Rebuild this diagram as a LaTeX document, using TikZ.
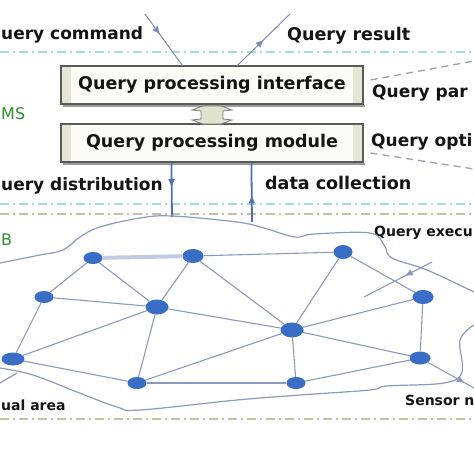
\documentclass[tikz,border=0pt]{standalone}
\usepackage{fontspec}
\setmainfont{DejaVu Sans}
\usetikzlibrary{shapes.geometric,arrows.meta,decorations.markings,calc}

\definecolor{netline}{HTML}{8A99C0}
\definecolor{thickline}{HTML}{C2CAE0}
\definecolor{nodeblue}{HTML}{3A6EC6}
\definecolor{arrowblue}{HTML}{4A70BC}
\definecolor{feedline}{HTML}{7C8DBA}
\definecolor{cyanline}{HTML}{A6DCE0}
\definecolor{tanline}{HTML}{C9C0A2}
\definecolor{txt}{HTML}{141414}
\definecolor{sinkgreen}{HTML}{2F8F2F}
\definecolor{boxfill}{HTML}{FBFBF7}
\definecolor{boxstrip}{HTML}{E4E5D3}
\definecolor{boxedge}{HTML}{5A5A5A}
\definecolor{dashgrey}{HTML}{9AA0AE}
\definecolor{dblfill}{HTML}{DFE2CE}

\begin{document}
\begin{tikzpicture}[x=1pt,y=-1pt,
  lbl/.style={font=\fontsize{17.5}{20}\selectfont\bfseries, text=txt, inner sep=0},
  edgelbl/.style={font=\fontsize{17}{20}\selectfont\bfseries, text=txt, inner sep=0},
  slbl/.style={font=\fontsize{14}{16}\selectfont\bfseries, text=txt, inner sep=0},
  glbl/.style={font=\fontsize{16}{18}\selectfont, text=sinkgreen, inner sep=0},
  qbox/.style={draw=boxedge, line width=1.2pt, fill=boxfill, minimum width=302pt, minimum height=38pt, inner sep=0, font=\fontsize{17.5}{20}\selectfont\bfseries, text=txt},
  sn/.style={ellipse, fill=nodeblue, inner sep=0, minimum width=19pt, minimum height=12pt},
  bigsn/.style={sn, minimum width=23pt, minimum height=15pt},
  edge/.style={draw=netline, line width=1.1pt},
  cyandd/.style={draw=cyanline, line width=1.2pt, dash pattern=on 9pt off 4pt on 2pt off 4pt},
  tandd/.style={draw=tanline, line width=1.2pt, dash pattern=on 9pt off 4pt on 2pt off 4pt},
  midarrow/.style={postaction={decorate}, decoration={markings, mark=at position #1 with {\arrow{Latex[length=8pt,width=7pt]}}}},
]
\useasboundingbox (0,0) rectangle (474,474);
\fill[white] (0,0) rectangle (474,474);

% separator lines
\draw[cyandd] (0,52) -- (474,52);
\draw[cyandd] (0,204) -- (474,204);
\draw[tandd] (0,214) -- (474,214);
\draw[tandd] (0,419) -- (474,419);

% boxes
\fill[boxedge!60] (63,105) rectangle (365,106.5);
\node[qbox] (b1) at (212,85) {};
\fill[boxstrip] ($(b1.north west)+(2,2)$) rectangle ($(b1.south west)+(11,-2)$);
\fill[boxstrip] ($(b1.north east)+(-11,2)$) rectangle ($(b1.south east)+(-2,-2)$);
\node[lbl] at (b1.center) {Query processing interface};

\fill[boxedge!60] (63,163) rectangle (365,164.5);
\node[qbox] (b2) at (212,143) {};
\fill[boxstrip] ($(b2.north west)+(2,2)$) rectangle ($(b2.south west)+(11,-2)$);
\fill[boxstrip] ($(b2.north east)+(-11,2)$) rectangle ($(b2.south east)+(-2,-2)$);
\node[lbl] at (b2.center) {Query processing module};

% double arrow between boxes
\draw[boxedge!80, fill=dblfill, line width=0.8pt]
  (203,106) -- (221,106) -- (232,110) -- (223,111) -- (223,119) -- (232,120)
  -- (221,124) -- (203,124) -- (192,120) -- (201,119) -- (201,111) -- (192,110) -- cycle;

% texts
\node[edgelbl, anchor=base west] (tqc) at (1,39) {uery command};
\node[lbl, anchor=base west] (tqr) at (287,40) {Query result};
\node[edgelbl, anchor=base west] (tqp) at (372,97) {Query par};
\node[edgelbl, anchor=base west] (tqo) at (371,146) {Query opti};
\node[edgelbl, anchor=base west] (tqd) at (1,190) {uery distribution};
\node[lbl, anchor=base west] (tdc) at (265,189) {data collection};
\node[slbl, anchor=base west] (tqe) at (374,236) {Query execu};
\node[slbl, anchor=base west] (tsn) at (405,405) {Sensor n};
\node[slbl, anchor=base west] (tva) at (1,410) {ual area};
\node[glbl, anchor=base west] (tms) at (1,119) {MS};
\node[glbl, anchor=base west] (tdb) at (1,245) {B};

% query command / result
\coordinate (qcs) at (145,14);
\coordinate (qrs) at (290,14);
\draw[feedline, line width=1pt, midarrow=0.4] (qcs) -- ($(b1.north west)+(122,0)$);
\draw[feedline, line width=1pt, midarrow=0.5] ($(b1.north west)+(177,0)$) -- (qrs);

% dashed grey lines
\coordinate (dp) at (474,61);
\coordinate (dq) at (474,169);
\draw[dashgrey, line width=1.3pt, dash pattern=on 7pt off 5pt] ($(b1.east)+(7,-5)$) -- (dp);
\draw[dashgrey, line width=1.3pt, dash pattern=on 7pt off 5pt] ($(b2.east)+(7,10)$) -- (dq);

% distribution / collection
\coordinate (qdEnd) at (172,217);
\coordinate (dcStart) at (252,222);
\draw[arrowblue, line width=1.8pt, midarrow=0.45] ($(b2.south west)+(111,0)$) -- (qdEnd);
\draw[arrowblue, line width=1.8pt, midarrow=0.45] (dcStart) -- ($(b2.south west)+(191,0)$);

% cloud boundary
\draw[netline, line width=1.2pt] plot[smooth, tension=0.6] coordinates {
  (0,263) (40,255) (63,250) (80,237) (100,227) (140,218) (172,216) (237,222)
  (264,228) (295,237) (314,234) (370,233) (384,245) (392,258) (427,270) (474,292)};
\draw[netline, line width=1.2pt] plot[smooth, tension=0.6] coordinates {
  (474,325) (460,340) (462,372) (444,383) (387,386) (370,390) (300,395)
  (237,400) (140,410) (117,407) (77,392) (33,375) (0,368)};
\draw[netline, line width=1.2pt] (0,383) -- (17,373);

% sensor nodes
\node[sn] (n1) at (93,258) {};
\node[sn, minimum width=21pt, minimum height=14pt] (n2) at (193,256) {};
\node[sn] (n3) at (44,297) {};
\node[bigsn] (n4) at (157,307) {};
\node[sn, minimum width=19pt, minimum height=14pt] (n5) at (343,252) {};
\node[sn, minimum width=21pt, minimum height=14pt] (n6) at (423,297) {};
\node[bigsn] (n7) at (292,330) {};
\node[sn, minimum width=23pt, minimum height=13pt] (n8) at (13,359) {};
\node[sn] (n9) at (137,383) {};
\node[sn] (n10) at (296,383) {};
\node[sn, minimum width=21pt, minimum height=13pt] (n11) at (420,358) {};

% edges
\draw[draw=thickline, line width=4pt] (n1) -- (n2);
\foreach \a/\b in {n1/n3, n1/n4, n2/n4, n2/n5, n2/n7, n3/n4, n3/n8, n4/n8, n4/n9,
  n4/n7, n5/n7, n5/n6, n6/n7, n6/n11, n7/n10, n7/n11, n7/n9, n8/n9, n9/n10, n10/n11}
  \draw[edge] (\a) -- (\b);

% pointers
\coordinate (qeA) at (432,262);
\coordinate (qeB) at (364,297);
\draw[edge, midarrow=0.4] (qeA) -- (qeB);
\coordinate (snEnd) at (474,388);
\draw[edge, midarrow=0.8] (n11) -- (snEnd);
\end{tikzpicture}
\end{document}
